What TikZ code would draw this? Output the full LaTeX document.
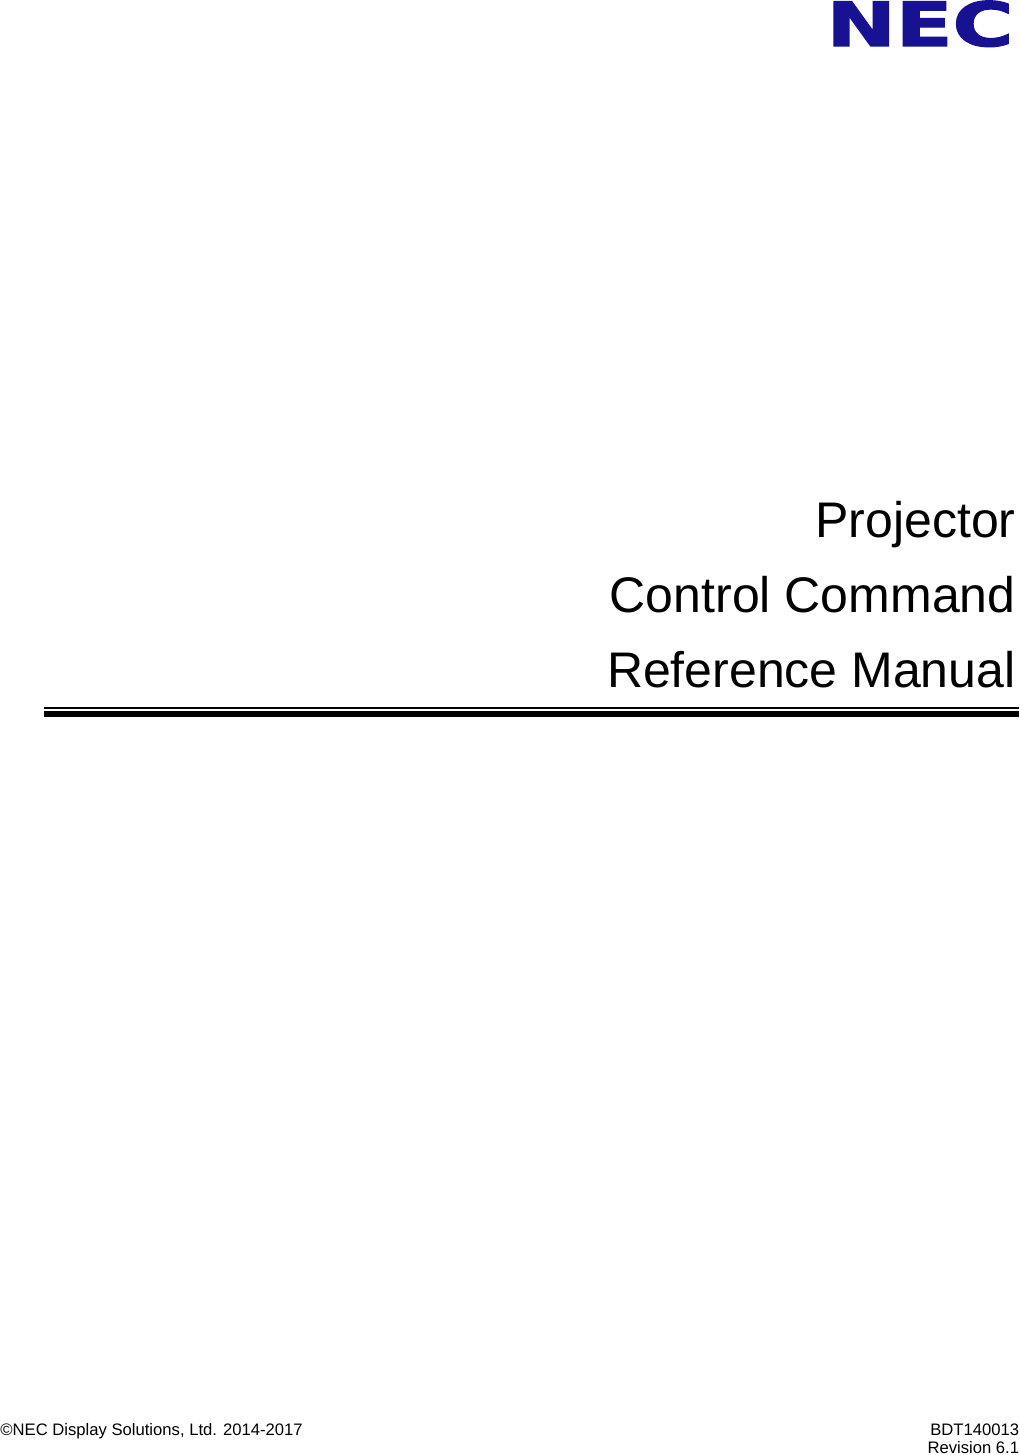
\documentclass[tikz,border=0pt]{standalone}
\usepackage{fontspec}
\setmainfont{Liberation Sans}
\newfontfamily\logofont[FakeBold=2]{DejaVu Sans Bold}
\definecolor{necblue}{RGB}{22,18,146}
\tikzset{
 titletext/.style={anchor=base east,inner sep=0pt,font=\fontsize{25pt}{30pt}\selectfont},
 foot/.style={inner sep=0pt,font=\fontsize{8.32pt}{10pt}\selectfont},
 logo/.style={anchor=base east,inner sep=0pt,font=\logofont\fontsize{30.5pt}{30pt}\selectfont,text=necblue,xscale=1.36,transform shape}
}
\begin{document}
\begin{tikzpicture}[x=0.5pt,y=-0.5pt]
\useasboundingbox (0,0) rectangle (1019,1455);
\fill[white] (0,0) rectangle (1019,1455);
\node[logo] (nec) at (1014,46) {NEC};
\node[titletext] (t1) at (1016,537) {Projector};
\node[titletext] (t2) at (1016,612) {Control Command};
\node[titletext] (t3) at (1016,687) {Reference Manual};
\fill[black] (44,707) rectangle (1019,709);
\fill[black] (44,710.7) rectangle (1019,716.8);
\node[foot,anchor=base west] (f1) at (0,1435) {©NEC Display Solutions, Ltd. 2014-2017};
\node[foot,anchor=base east] (f2) at (1019.5,1435) {BDT140013};
\node[foot,anchor=base east] (f3) at (1019.5,1453.5) {Revision 6.1};
\end{tikzpicture}
\end{document}
